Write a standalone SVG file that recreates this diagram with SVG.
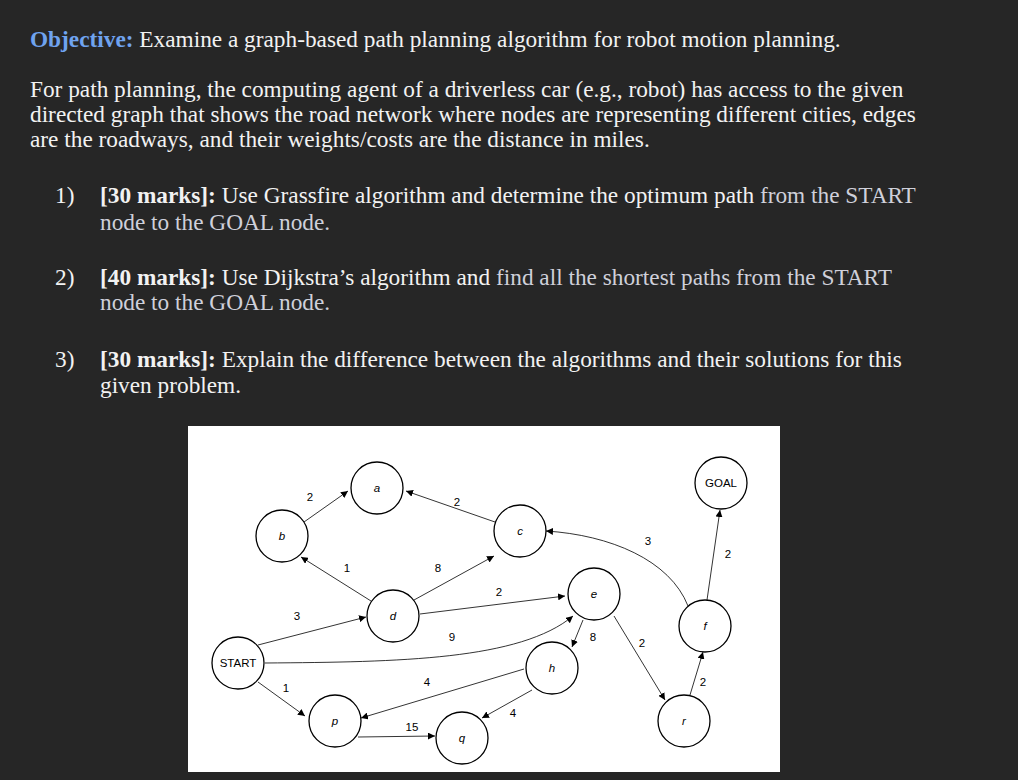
<svg xmlns="http://www.w3.org/2000/svg" width="1018" height="780" viewBox="0 0 1018 780">
<style>
.t{font-family:"Liberation Serif",serif;font-size:23.3px;fill:#f2f2f2}
.g{fill:#cfd0da}
.n{fill:#fff;stroke:#000;stroke-width:1.3}
.l{font-family:"Liberation Sans",Arial,sans-serif;font-size:11.5px;fill:#000;text-anchor:middle}
.i{font-style:italic}
.e{fill:none;stroke:#000;stroke-width:0.8;marker-end:url(#ar)}
</style>
<defs><marker id="ar" viewBox="0 0 10 10" refX="10" refY="5" markerWidth="7" markerHeight="7" orient="auto" markerUnits="userSpaceOnUse"><path d="M0,0L10,5L0,10z" fill="#000"/></marker></defs>
<rect width="1018" height="780" fill="#262626"/>
<text class="t" x="30" y="47"><tspan font-weight="bold" fill="#6fa3ef">Objective:</tspan> Examine a graph-based path planning algorithm for robot motion planning.</text>
<text class="t" x="30" y="97">For path planning, the computing agent of a driverless car (e.g., robot) has access to the given</text>
<text class="t" x="30" y="122">directed graph that shows the road network where nodes are representing different cities, edges</text>
<text class="t" x="30" y="147">are the roadways, and their weights/costs are the distance in miles.</text>
<text class="t" x="55" y="203">1)</text>
<text class="t" x="100" y="203"><tspan font-weight="bold">[30 marks]:</tspan> Use Grassfire algorithm and determine the optimum path <tspan class="g">from the START</tspan></text>
<text class="t g" x="100" y="230">node to the GOAL node.</text>
<text class="t" x="55" y="285">2)</text>
<text class="t" x="100" y="285"><tspan font-weight="bold">[40 marks]:</tspan> Use Dijkstra’s algorithm and <tspan class="g">find all the shortest paths from the START</tspan></text>
<text class="t g" x="100" y="310">node to the GOAL node.</text>
<text class="t" x="55" y="367">3)</text>
<text class="t" x="100" y="367"><tspan font-weight="bold">[30 marks]:</tspan> Explain the difference between the algorithms and their solutions for this</text>
<text class="t" x="100" y="393">given problem.</text>
<rect x="188" y="426" width="592" height="346" fill="#fff"/>
<g id="connectors">
<path class="e" d="M304,522L348,491"/>
<path class="e" d="M495,522L406,491"/>
<path class="e" d="M371,601L301,557"/>
<path class="e" d="M414,600L494,556"/>
<path class="e" d="M258,645L366,617"/>
<path class="e" d="M420,614L565,596"/>
<path class="e" d="M265,663C400,662,520,660,573,616"/>
<path class="e" d="M258,682L305,716"/>
<path class="e" d="M524,669L361,718"/>
<path class="e" d="M358,737L435,736"/>
<path class="e" d="M532,690L482,718"/>
<path class="e" d="M583,620L572,647"/>
<path class="e" d="M614,616L665,700"/>
<path class="e" d="M690,695L703,652"/>
<path class="e" d="M707,600L720,510"/>
<path class="e" d="M688,606C670,560,610,535,546,531"/>
</g>
<g class="l">
<text x="310" y="501">2</text><text x="457" y="506">2</text><text x="347" y="572">1</text><text x="438" y="572">8</text>
<text x="297" y="620">3</text><text x="499" y="596">2</text><text x="452" y="641">9</text><text x="286" y="692">1</text>
<text x="427" y="686">4</text><text x="412" y="731">15</text><text x="513" y="717">4</text><text x="593" y="641">8</text>
<text x="642" y="647">2</text><text x="703" y="686">2</text><text x="728" y="558">2</text><text x="648" y="545">3</text>
</g>
<g id="a"><circle class="n" cx="377" cy="488" r="26"/><text class="l i" x="377" y="492">a</text></g>
<g id="b"><circle class="n" cx="282" cy="536" r="26"/><text class="l i" x="282" y="540">b</text></g>
<g id="d"><circle class="n" cx="393" cy="616" r="26"/><text class="l i" x="393" y="620">d</text></g>
<g id="start"><circle class="n" cx="238" cy="663" r="26"/><text class="l" x="238" y="667">START</text></g>
<g id="p"><circle class="n" cx="335" cy="721" r="26"/><text class="l i" x="335" y="725">p</text></g>
<g id="q"><circle class="n" cx="462" cy="738" r="26"/><text class="l i" x="462" y="742">q</text></g>
<g id="c"><circle class="n" cx="520" cy="531" r="26"/><text class="l i" x="520" y="535">c</text></g>
<g id="e"><circle class="n" cx="594" cy="594" r="26"/><text class="l i" x="594" y="598">e</text></g>
<g id="h"><circle class="n" cx="552" cy="668" r="26"/><text class="l i" x="552" y="672">h</text></g>
<g id="f"><circle class="n" cx="705" cy="626" r="26"/><text class="l i" x="705" y="630">f</text></g>
<g id="r"><circle class="n" cx="684" cy="721" r="26"/><text class="l i" x="684" y="725">r</text></g>
<g id="goal"><circle class="n" cx="721" cy="483" r="26"/><text class="l" x="721" y="487">GOAL</text></g>
</svg>
